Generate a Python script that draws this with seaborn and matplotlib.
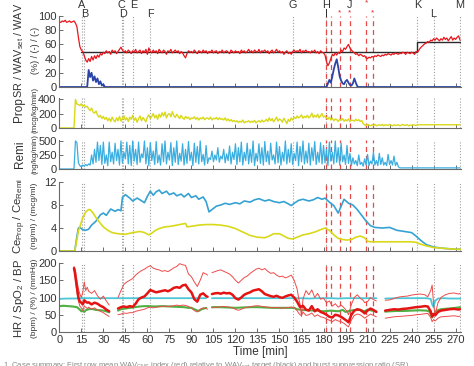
import numpy as np
import matplotlib
matplotlib.use("Agg")
import matplotlib.pyplot as plt
import matplotlib.transforms as mtransforms
import seaborn as sns

sns.set_theme(style="ticks")
plt.rcParams['font.family'] = ['Liberation Sans', 'DejaVu Sans']
plt.rcParams['mathtext.fontset'] = 'custom'
plt.rcParams['mathtext.rm'] = 'Liberation Sans'
plt.rcParams['mathtext.it'] = 'Liberation Sans'

# ---------------- data ----------------
minutes = np.arange(0, 274)

wav = [92,91,93,92,94,91,92,93,91,92,
       93,90,85,70,57,52,50,44,38,35,
       40,36,43,38,44,40,45,42,47,45,
       49,47,51,48,50,46,52,49,51,47,
       50,53,56,52,49,51,48,52,50,47,
       51,49,53,48,50,52,47,51,49,53,
       46,55,50,48,52,49,51,47,53,50,
       48,52,50,46,51,49,53,48,50,52,
       49,51,47,50,48,44,41,47,51,49,
       50,48,52,49,47,51,50,48,52,49,
       51,47,50,49,52,48,50,51,47,50,
       49,52,48,50,51,49,47,52,50,48,
       51,49,50,47,52,49,51,48,50,53,
       49,51,48,52,50,49,53,48,51,50,
       52,49,51,47,50,52,48,50,53,49,
       51,48,50,46,49,51,47,49,46,50,
       52,49,51,50,53,48,51,50,52,49,
       50,48,51,49,52,48,50,47,51,49,
       48,45,36,30,34,40,46,44,48,45,
       49,47,52,50,55,53,57,60,55,52,
       50,48,46,47,44,46,45,43,44,41,
       40,42,41,43,42,44,43,45,44,43,
       45,44,46,45,47,46,45,47,46,48,
       47,46,48,47,49,48,46,49,48,47,
       49,48,46,50,49,52,55,57,59,61,
       62,64,63,66,65,68,66,69,67,65,
       68,66,70,67,69,65,68,71,66,69,
       67,70,72,66]

wav_set_t = [14.5, 244, 244, 274]
wav_set = [50, 50, 63, 63]

sr_t = [0,19,20,21,22,23,24,25,26,27,28,29,30,31,
        182,183,184,185,186,187,188,189,190,191,192,193,194,195,196,197,198,199,200,201,202,203,204,274]
sr = [0,0,24,14,20,9,15,7,12,4,8,2,4,0,
      0,5,10,6,15,25,33,39,28,15,9,5,4,8,10,6,3,2,5,12,6,1,0,0]

prop = [0,0,0,0,0,0,0,0,0,0,0,
        395,330,325,310,335,300,315,290,300,265,
        240,275,220,205,235,180,150,175,130,160,
        120,145,100,135,90,150,110,85,140,100,
        160,95,130,170,110,140,90,150,120,175,
        105,140,80,130,165,100,145,115,85,150,
        180,130,160,200,140,175,120,190,150,210,
        165,220,140,185,200,155,225,170,145,190,
        160,130,175,140,120,160,135,150,115,140,
        130,155,120,145,110,140,125,150,115,135,
        140,120,150,110,135,125,145,115,140,120,
        130,110,140,100,125,95,115,90,105,85,
        100,75,95,80,110,70,90,85,100,75,
        95,80,105,70,90,100,80,110,85,95,
        120,90,140,100,130,85,115,150,95,125,
        110,80,135,100,60,120,90,140,110,150,
        130,165,140,155,180,135,160,145,175,140,
        160,205,145,175,150,190,140,170,200,150,
        165,140,120,150,110,135,100,125,115,90,
        120,105,130,95,115,100,125,90,110,105,
        95,120,100,115,90,105,60,45,35,50,
        40,30,45,35,50,30,40,45,35,50,
        30,45,40,35,50,40,30,45,35,40,
        45,30,40,50,35,40,45,30,40,35,
        45,40,35,45,45,45,45,45,45,45,
        45,45,45,45,45,45,45,45,45,45,
        45,45,45,45,45,45,45,45,45,45,
        45,45,45]

remi = [0,0,0,0,0,0,0,0,0,0,0,
        500,470,110,60,40,70,50,80,60,90,
        70,250,90,350,120,480,150,420,80,480,
        100,250,60,480,130,300,90,460,150,350,
        70,500,110,300,180,480,90,420,60,500,
        140,350,80,480,120,270,200,500,90,380,
        60,470,150,320,80,490,110,250,70,450,
        130,500,90,300,160,470,60,380,120,500,
        80,280,140,450,70,350,100,490,150,300,
        60,460,120,400,90,500,130,260,70,420,
        100,200,170,320,130,250,160,380,120,230,
        180,350,110,270,150,410,90,300,170,450,
        80,380,130,480,70,300,150,460,90,350,
        120,500,60,280,140,450,100,380,70,490,
        130,320,80,460,160,250,90,480,110,400,
        70,300,140,500,90,350,120,450,80,280,
        150,480,60,400,130,500,90,320,110,460,
        70,380,150,490,80,300,120,470,90,420,
        110,350,60,480,140,300,90,500,120,380,
        70,460,130,250,80,420,100,280,60,200,
        90,150,60,250,80,120,50,180,70,260,
        60,140,90,300,70,150,60,280,80,200,
        70,120,60,260,80,150,70,230,60,120,
        40,20,20,20,20,20,20,20,20,20,
        20,20,20,20,20,20,20,20,20,20,
        20,20,20,20,20,20,20,20,20,20,
        20,20,20,20,20,20,20,20,20,20,
        20,20,20]

ce_remi_t = [0,10.5,12,13,14,16,18,20,22,25,28,30,32,35,38,40,42,43,45,48,50,53,55,58,60,62,64,66,68,70,
             73,75,78,80,83,85,88,90,93,95,98,100,102,104,107,110,113,116,120,123,126,130,133,136,140,143,
             146,150,153,156,158,160,163,166,170,173,176,179,181,184,187,190,192,194,197,200,203,206,209,
             212,215,220,225,230,235,240,243,246,250,255,260,265,270,274]
ce_remi = [0,0,2.5,4.0,4.1,3.7,3.6,3.8,4.5,5.2,6.3,6.6,6.2,7.3,6.9,7.2,7.0,9.3,9.8,9.2,8.7,9.2,8.9,8.4,9.5,10.4,9.7,10.3,10.6,10.0,
           10.4,9.8,10.1,9.6,9.9,9.4,10.0,9.3,9.6,9.0,9.4,8.6,6.8,7.2,7.8,8.0,8.3,8.1,8.4,8.2,8.7,8.5,8.9,9.1,8.7,8.9,
           8.6,8.4,8.6,8.2,7.9,8.3,8.8,9.0,8.7,8.9,9.3,9.0,9.2,8.5,7.9,6.6,7.8,9.0,8.3,8.0,7.2,6.2,5.2,
           4.4,4.1,4.0,4.1,3.6,3.4,3.2,2.6,1.9,1.1,0.7,0.5,0.4,0.3,0.3]

ce_prop_t = [0,10.5,12,13,14,16,18,20,21,23,25,28,30,33,36,40,45,50,55,58,61,63,65,68,72,76,80,84,86,87,90,95,
             100,105,110,115,120,125,130,135,140,143,146,150,153,156,159,162,166,170,174,178,181,184,187,190,
             193,196,199,202,205,208,210,212,220,230,240,243,246,250,255,260,265,270,274]
ce_prop = [0,0,2.0,3.5,4.2,5.8,6.8,7.2,7.2,6.6,5.8,4.8,4.2,3.6,3.2,3.0,2.9,3.2,3.4,3.2,2.8,3.1,3.5,3.9,4.2,4.3,4.5,4.7,4.8,4.2,4.3,4.5,
           4.6,4.6,4.5,4.3,3.9,3.3,2.7,2.4,2.3,2.6,3.0,3.0,2.6,2.2,2.1,2.4,2.8,3.0,3.3,3.7,4.0,3.6,2.8,2.2,
           2.0,1.9,2.0,2.4,2.6,2.3,1.7,1.6,1.6,1.6,1.6,1.5,1.2,0.9,0.6,0.5,0.4,0.3,0.3]

spo2_t = [0,5,10,15,20,25,30,35,40,45,50,55,60,65,70,75,80,85,90,95,100,102.5,104,110,120,130,140,150,160,
          165,170,175,180,185,190,195,200,205,210,216,219,222,230,240,250,253,254,255,256,258,262,266,270,274]
spo2 = [96,97,97,98,98,98,98,98,98,98,98,98,98,98,98,98,98,98,98,98,98,np.nan,98,98,98,98,98,98,98,
        98,97,98,98,98,97,98,98,98,98,98,np.nan,97,98,98,98,96,80,72,90,97,98,97,97,97]

hr_t = [0,3,6,9,12,14,15,16,17,18,20,22,25,28,30,32,34,37,40,42,45,48,50,53,55,58,60,65,70,75,80,85,88,90,93,95,
        97,100,102.5,104,110,115,120,125,130,135,140,145,150,155,160,162,165,170,175,180,185,190,193,195,198,200,
        205,208,210,213,216,219,222,225,230,235,240,245,250,252,254,255,257,260,265,270,273]
hr = [75,76,75,74,72,65,60,62,58,63,66,67,64,63,62,60,57,np.nan,62,66,68,70,71,73,74,75,75,74,75,74,73,72,70,70,64,61,
      66,70,np.nan,72,72,71,70,71,72,72,71,70,70,70,70,66,64,63,62,60,62,60,64,58,62,63,
      64,60,65,62,60,np.nan,59,60,61,61,62,63,62,60,42,50,62,66,68,70,72]

bp_t = [10,10.5,11,12,13,14,15,16,17,18,19,20,22,24,26,28,30,32,34,37,
        40,42,44,46,48,50,52,54,56,58,60,62,64,66,68,70,72,74,76,78,80,82,84,86,88,90,92,94,96,98,100,101,102.5,
        104,106,108,110,112,114,116,118,120,122,124,126,128,130,132,134,136,138,140,142,144,146,148,150,152,154,156,
        158,160,162,163,164,165,166,168,170,172,174,176,178,180,182,184,186,188,190,192,194,196,197,199,201,203,205,
        207,208,210,212,214,216,219,
        222,225,228,231,234,237,240,243,246,249,251,253,254,255,256,258,260,263,266,269,272,273]
bp_mean = [185,175,160,130,100,88,85,80,92,88,85,86,80,85,82,76,72,65,60,np.nan,
           68,72,74,72,75,73,82,95,100,103,112,122,118,115,117,119,121,118,122,128,130,128,135,137,124,115,95,88,108,112,104,102,np.nan,
           110,112,113,111,114,112,113,108,98,94,100,108,112,115,120,122,124,118,110,107,104,102,105,101,99,103,106,
           108,100,88,80,72,74,76,65,62,75,60,66,58,55,50,44,42,50,48,44,38,32,28,50,62,66,64,
           58,54,62,68,64,58,np.nan,
           62,64,66,65,67,68,70,72,73,75,74,60,45,52,48,58,62,64,66,67,65,66]
bp_sys = [190,185,180,150,125,110,100,115,145,120,130,118,112,120,105,95,104,90,78,np.nan,
          100,120,138,145,150,155,165,172,178,182,188,192,185,182,180,176,178,175,180,186,190,198,195,193,168,160,145,132,150,172,168,165,np.nan,
          172,175,178,180,176,172,168,160,150,142,150,158,162,170,176,182,185,180,184,176,170,172,165,160,162,157,160,
          165,150,125,100,80,45,95,120,108,122,100,112,95,98,85,90,75,82,72,78,70,60,50,80,100,108,98,
          92,85,88,100,94,90,np.nan,
          92,93,97,101,103,104,107,109,110,108,102,120,136,80,50,85,100,108,112,113,110,112]
bp_dia = [178,175,150,115,90,75,70,62,75,72,68,72,66,70,64,60,56,50,45,np.nan,
          50,52,55,54,56,56,60,62,64,66,70,72,70,72,73,74,75,74,75,76,78,76,78,77,74,70,62,58,66,70,68,66,np.nan,
          70,72,72,73,74,73,72,70,66,63,66,70,72,73,75,76,76,74,73,72,71,70,71,70,69,70,71,
          72,70,62,55,50,48,58,48,50,55,45,50,44,42,38,34,30,36,32,30,25,18,15,35,48,52,50,
          44,40,46,52,48,44,np.nan,
          40,42,44,45,46,47,48,50,51,53,54,42,30,36,32,40,44,45,46,47,45,46]

event_names = ['A', 'B', 'C', 'D', 'E', 'F', 'G', 'H', 'I', 'J', 'K', 'L', 'M']
event_times = [15.5, 17, 42.5, 43.5, 50.5, 62, 159, 181.5, 182, 197.5, 244, 255, 273]
event_rows = [0, 1, 0, 1, 0, 1, 0, 0, 1, 0, 0, 1, 0]
dotted_events = [15.5, 17, 42.5, 43.5, 50.5, 62, 159, 181.5, 244, 255, 273]
red_events = [181.5, 185, 191, 198, 209, 213.5]
red_mark_times = [191, 198, 209, 213.5]
red_mark_rows = [1, 1, 0, 1]

# ---------------- colors ----------------
C_WAV = '#e8161c'
C_SR = '#2a44a8'
C_PROP = '#d9d91a'
C_REMI = '#3aaee0'
C_CE_REMI = '#35a2d2'
C_SPO2 = '#4cc6d6'
C_HR = '#4fb043'
C_BP = '#e41414'
C_BP_THIN = '#ee4a4a'


def seg_plot(ax, t, v, **kw):
    t = np.asarray(t, float)
    v = np.asarray(v, float)
    idx = np.where(~np.isnan(v))[0]
    if len(idx) == 0:
        return
    br = np.where(np.diff(idx) > 1)[0]
    starts = np.r_[0, br + 1]
    ends = np.r_[br, len(idx) - 1]
    for s, e in zip(starts, ends):
        sel = idx[s:e + 1]
        sns.lineplot(x=t[sel], y=v[sel], ax=ax, estimator=None, sort=False,
                     errorbar=None, legend=False, **kw)


W, H = 474, 366
fig = plt.figure(figsize=(W / 100, H / 100), dpi=100)
left = 59.3 / W
width = (461.5 - 59.3) / W


def mk(top_px, bot_px):
    return fig.add_axes([left, 1 - bot_px / H, width, (bot_px - top_px) / H])


ax1 = mk(16, 87)
ax2 = mk(98.3, 128)
ax3 = mk(140.4, 169)
ax4 = mk(182, 251)
ax5 = mk(263, 332)
axes = [ax1, ax2, ax3, ax4, ax5]

# event lines first (behind data)
for ax in axes:
    for t in dotted_events:
        ax.axvline(t, color='#a0a0a0', ls=(0, (1, 1.6)), lw=0.8, zorder=1)
    for t in red_events:
        ax.axvline(t, color='#e84848', ls=(0, (4, 3)), lw=0.9, zorder=1)

# panel 1
seg_plot(ax1, sr_t, sr, color=C_SR, linewidth=1.3)
seg_plot(ax1, wav_set_t, wav_set, color='#2b2b2b', linewidth=1.0)
seg_plot(ax1, minutes, wav, color=C_WAV, linewidth=0.9)
ax1.set_ylim(0, 100)
ax1.set_yticks([0, 20, 40, 60, 80, 100])

# panel 2
seg_plot(ax2, minutes, prop, color=C_PROP, linewidth=1.0)
ax2.set_ylim(0, 410)
ax2.set_yticks([0, 200, 400])

# panel 3
seg_plot(ax3, minutes, remi, color=C_REMI, linewidth=0.9)
ax3.set_ylim(0, 510)
ax3.set_yticks([0, 250, 500])

# panel 4
seg_plot(ax4, ce_remi_t, ce_remi, color=C_CE_REMI, linewidth=1.2)
seg_plot(ax4, ce_prop_t, ce_prop, color=C_PROP, linewidth=1.2)
ax4.set_ylim(0, 12)
ax4.set_yticks([0, 4, 8, 12])

# panel 5
seg_plot(ax5, spo2_t, spo2, color=C_SPO2, linewidth=1.3)
seg_plot(ax5, hr_t, hr, color=C_HR, linewidth=1.5)
seg_plot(ax5, bp_t, bp_sys, color=C_BP_THIN, linewidth=0.7)
seg_plot(ax5, bp_t, bp_dia, color=C_BP_THIN, linewidth=0.7)
seg_plot(ax5, bp_t, bp_mean, color=C_BP, linewidth=1.8)
ax5.set_ylim(0, 200)
ax5.set_yticks([0, 50, 100, 150, 200])

for ax in axes:
    ax.set_xlim(0, 274)
    ax.set_xticks(np.arange(0, 271, 15))
    ax.set_xlabel('')
    ax.set_ylabel('')
    ax.set_facecolor('white')
    for s in ['top', 'right']:
        ax.spines[s].set_visible(False)
    for s in ['left', 'bottom']:
        ax.spines[s].set_color('#6a6a6a')
        ax.spines[s].set_linewidth(0.8)
    ax.tick_params(direction='in', length=3, width=0.7, color='#6a6a6a',
                   labelsize=8, labelcolor='#333333', pad=2)
    if ax is not ax5:
        ax.tick_params(axis='x', labelbottom=False)

ax5.set_xlabel('Time [min]', fontsize=8.5, color='#333333', labelpad=1)

# y labels: (axis, main text, unit text, main size, unit size, y-centre px)
ylabels = [
    (ax1, 'SR / WAV$_{set}$ / WAV', '(%) / (-) / (-)', 7.8, 6.5, 50),
    (ax2, 'Prop', '(mcg/kg/min)', 8.5, 5.8, 110),
    (ax3, 'Remi', '(ng/kg/min)', 8.5, 5.8, 154),
    (ax4, 'Ce$_{Prop}$ / Ce$_{Remi}$', '(ng/ml) / (mcg/ml)', 8.2, 6.0, 216),
    (ax5, 'HR / SpO$_2$ / BP', '(bpm) / (%) / (mmHg)', 8.2, 6.0, 298),
]
for ax, main, unit, ms, us, ypx in ylabels:
    yc = 1 - ypx / H
    fig.text(19.5 / W, yc, main, rotation=90, ha='center', va='center',
             fontsize=ms, color='#333333')
    fig.text(35 / W, yc, unit, rotation=90, ha='center', va='center',
             fontsize=us, color='#333333')

# event labels
trans = mtransforms.blended_transform_factory(ax1.transData, fig.transFigure)
row_y = [1 - 4.5 / H, 1 - 14 / H]
for name, t, r in zip(event_names, event_times, event_rows):
    fig.text(t, row_y[r], name, transform=trans, ha='center', va='center',
             fontsize=7.8, color='#333333')
for t, r in zip(red_mark_times, red_mark_rows):
    fig.text(t, row_y[r] + 0.004, '*', transform=trans, ha='center', va='center',
             fontsize=6, color='#e02020')

# truncated caption at bottom (cut by the image edge, as in the reference)
fig.text(3 / W, 1 - 365.5 / H,
         '1  Case summary: First row mean WAV$_{CNS}$ index (red) relative to WAV$_{set}$ target (black) and burst suppression ratio (SR)',
         ha='left', va='center', fontsize=5.5, color='#888888')

fig.savefig('out.png', dpi=100)
